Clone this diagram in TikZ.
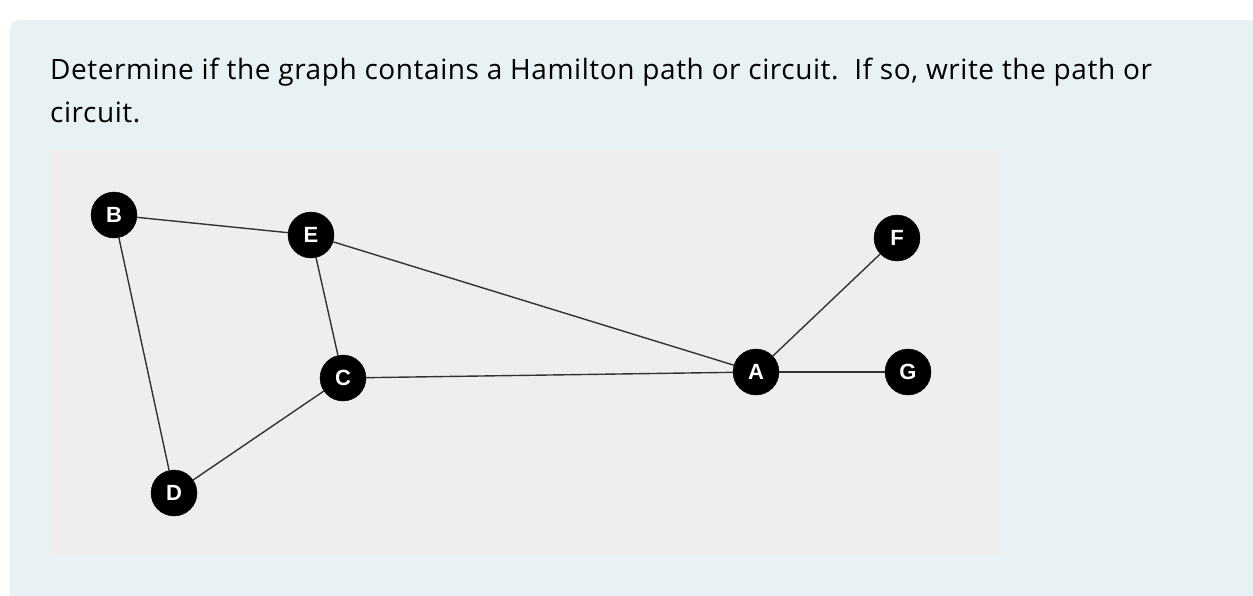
\documentclass[tikz,border=0pt]{standalone}
\usepackage{fontspec}
\setmainfont{Liberation Sans}
\newfontfamily\qfont[LetterSpace=2]{Open Sans}
\definecolor{outerbg}{HTML}{E8F1F4}
\definecolor{panel}{HTML}{EEEEEE}
\begin{document}
\begin{tikzpicture}[x=1pt,y=-1pt,
  vtx/.style={circle,fill=black,draw=black,minimum size=46pt,inner sep=0pt,text=white,font=\fontsize{22}{22}\selectfont\bfseries},
  edge/.style={draw=black!80,line width=1.4pt}]
\useasboundingbox (0,0) rectangle (1253,595);
\fill[white] (0,0) rectangle (1253,595);
\fill[outerbg,rounded corners=10pt] (10,20) rectangle (1263,605);
\fill[panel] (50,150) rectangle (1000,555);
\node[anchor=base west,inner sep=0pt,font=\qfont\fontsize{28}{28}\selectfont] (t1) at (50,79) {Determine if the graph contains a Hamilton path or circuit.\ \ If so, write the path or};
\node[anchor=base west,inner sep=0pt,font=\qfont\fontsize{28}{28}\selectfont] (t2) at (50,122) {circuit.};
\node[vtx] (B) at (114,215) {B};
\node[vtx] (E) at (311,235) {E};
\node[vtx] (F) at (897,238) {F};
\node[vtx] (C) at (343,378) {C};
\node[vtx] (A) at (756,372) {A};
\node[vtx] (G) at (908,372) {G};
\node[vtx] (D) at (174,493) {D};
\draw[edge] (B) -- (E);
\draw[edge] (B) -- (D);
\draw[edge] (E) -- (C);
\draw[edge] (E) -- (A);
\draw[edge] (C) -- (A);
\draw[edge] (C) -- (D);
\draw[edge] (A) -- (F);
\draw[edge] (A) -- (G);
\end{tikzpicture}
\end{document}
